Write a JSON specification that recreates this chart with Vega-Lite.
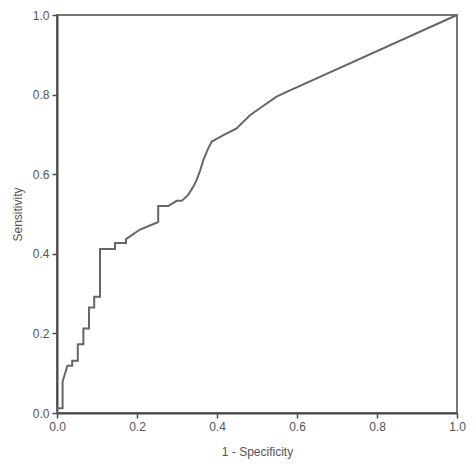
{
  "$schema": "https://vega.github.io/schema/vega-lite/v6.json",
  "width": 400,
  "height": 398,
  "autosize": {"type": "none"},
  "padding": {"left": 57, "top": 15, "right": 17, "bottom": 61},
  "background": "white",
  "config": {
    "view": {"stroke": "#4a4a4a", "strokeWidth": 1.5},
    "axis": {
      "domainColor": "#4a4a4a", "domainWidth": 2,
      "tickColor": "#4a4a4a", "tickWidth": 1.5, "tickSize": 5,
      "labelColor": "#555555", "labelFont": "Liberation Sans", "labelFontSize": 12,
      "titleColor": "#555555", "titleFont": "Liberation Sans", "titleFontSize": 12, "titleFontWeight": "normal",
      "grid": false
    }
  },
  "data": {"values": [
    {"i": 0, "fpr": 0.0, "tpr": 0.0},
    {"i": 1, "fpr": 0.0, "tpr": 0.012},
    {"i": 2, "fpr": 0.014, "tpr": 0.012},
    {"i": 3, "fpr": 0.014, "tpr": 0.079},
    {"i": 4, "fpr": 0.026, "tpr": 0.119},
    {"i": 5, "fpr": 0.038, "tpr": 0.119},
    {"i": 6, "fpr": 0.038, "tpr": 0.131},
    {"i": 7, "fpr": 0.052, "tpr": 0.131},
    {"i": 8, "fpr": 0.052, "tpr": 0.173},
    {"i": 9, "fpr": 0.066, "tpr": 0.173},
    {"i": 10, "fpr": 0.066, "tpr": 0.212},
    {"i": 11, "fpr": 0.08, "tpr": 0.212},
    {"i": 12, "fpr": 0.08, "tpr": 0.265},
    {"i": 13, "fpr": 0.093, "tpr": 0.265},
    {"i": 14, "fpr": 0.093, "tpr": 0.292},
    {"i": 15, "fpr": 0.1075, "tpr": 0.292},
    {"i": 16, "fpr": 0.1075, "tpr": 0.412},
    {"i": 17, "fpr": 0.145, "tpr": 0.412},
    {"i": 18, "fpr": 0.145, "tpr": 0.427},
    {"i": 19, "fpr": 0.1725, "tpr": 0.427},
    {"i": 20, "fpr": 0.1725, "tpr": 0.437},
    {"i": 21, "fpr": 0.2075, "tpr": 0.461},
    {"i": 22, "fpr": 0.249, "tpr": 0.478},
    {"i": 23, "fpr": 0.253, "tpr": 0.48},
    {"i": 24, "fpr": 0.253, "tpr": 0.52},
    {"i": 25, "fpr": 0.278, "tpr": 0.52},
    {"i": 26, "fpr": 0.291, "tpr": 0.528},
    {"i": 27, "fpr": 0.299, "tpr": 0.533},
    {"i": 28, "fpr": 0.312, "tpr": 0.533},
    {"i": 29, "fpr": 0.328, "tpr": 0.548},
    {"i": 30, "fpr": 0.341, "tpr": 0.569},
    {"i": 31, "fpr": 0.349, "tpr": 0.585},
    {"i": 32, "fpr": 0.358, "tpr": 0.61},
    {"i": 33, "fpr": 0.366, "tpr": 0.636},
    {"i": 34, "fpr": 0.378, "tpr": 0.665},
    {"i": 35, "fpr": 0.387, "tpr": 0.682},
    {"i": 36, "fpr": 0.416, "tpr": 0.698},
    {"i": 37, "fpr": 0.449, "tpr": 0.715},
    {"i": 38, "fpr": 0.4825, "tpr": 0.748},
    {"i": 39, "fpr": 0.516, "tpr": 0.772},
    {"i": 40, "fpr": 0.549, "tpr": 0.795},
    {"i": 41, "fpr": 0.566, "tpr": 0.803},
    {"i": 42, "fpr": 1.0, "tpr": 1.0}
  ]},
  "mark": {"type": "line", "color": "#666666", "strokeWidth": 2, "clip": false},
  "encoding": {
    "x": {"field": "fpr", "type": "quantitative", "title": "1 - Specificity",
      "scale": {"domain": [0, 1], "nice": false, "zero": false},
      "axis": {"values": [0, 0.2, 0.4, 0.6, 0.8, 1.0], "format": ".1f", "labelPadding": 3, "titlePadding": 14, "labelFlush": false}},
    "y": {"field": "tpr", "type": "quantitative", "title": "Sensitivity",
      "scale": {"domain": [0, 1], "nice": false, "zero": false},
      "axis": {"values": [0, 0.2, 0.4, 0.6, 0.8, 1.0], "format": ".1f", "labelPadding": 3, "titlePadding": 8, "labelFlush": false}},
    "order": {"field": "i", "type": "quantitative"}
  }
}
